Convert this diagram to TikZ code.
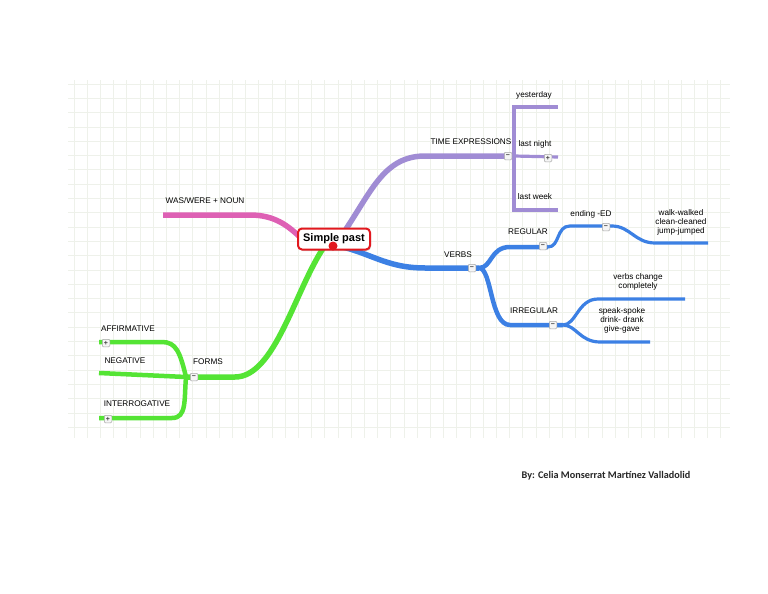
\documentclass[tikz,border=0pt]{standalone}
\usepackage{fontspec}
\setmainfont{Liberation Sans}
\newfontfamily\authorfont{Carlito}
\usetikzlibrary{shadows}
\definecolor{gridc}{RGB}{238,241,234}
\definecolor{purp}{RGB}{160,140,212}
\definecolor{pink}{RGB}{222,96,180}
\definecolor{blu}{RGB}{60,128,228}
\definecolor{grn}{RGB}{84,228,52}
\definecolor{redc}{RGB}{226,24,30}
\tikzset{
  lbl/.style={font=\fontsize{8.2}{9}\selectfont, inner sep=0pt, align=center},
  multi/.style={lbl, font=\fontsize{8.2}{9}\selectfont},
  toggle/.style={draw=gray!70, fill=gray!8, rounded corners=1pt, minimum size=7.5pt, inner sep=0pt, line width=0.5pt, font=\fontsize{7}{7}\selectfont\bfseries, text=black!75},
  br/.style={line width=5.5pt, line cap=butt},
  sub/.style={line width=4.5pt},
  leaf/.style={line width=3.2pt},
}
\begin{document}
\begin{tikzpicture}[x=1pt,y=-1pt]
\useasboundingbox (0,0) rectangle (768,594);
\fill[white] (0,0) rectangle (768,594);
% grid
\foreach \i in {0,...,49} { \draw[gridc, line width=0.7pt] ({74+13.2*\i},80) -- ({74+13.2*\i},438); }
\foreach \j in {0,...,24} { \draw[gridc, line width=0.7pt] (68,{84+14.3*\j}) -- (730,{84+14.3*\j}); }

% coordinates
\coordinate (pS) at (346,229);
\coordinate (pA) at (425,156);
\coordinate (pB) at (514,156);
\coordinate (yT) at (514,107);
\coordinate (yB) at (514,210);
\coordinate (yTe) at (558,107);
\coordinate (yMe) at (558,157);
\coordinate (yBe) at (558,210);
\coordinate (kS) at (300,237);
\coordinate (kA) at (250,215);
\coordinate (kB) at (163,215);
\coordinate (bS) at (334,245);
\coordinate (bA) at (425,268);
\coordinate (vJ) at (479,268);
\coordinate (rA) at (510,247);
\coordinate (rB) at (548,247);
\coordinate (eA) at (570,226);
\coordinate (eB) at (612,226);
\coordinate (wA) at (655,243);
\coordinate (wB) at (708,243);
\coordinate (iA) at (510,325);
\coordinate (iB) at (563,325);
\coordinate (cA) at (598,299);
\coordinate (cB) at (685,299);
\coordinate (sA) at (600,342);
\coordinate (sB) at (650,342);
\coordinate (gS) at (324,247);
\coordinate (gA) at (235,377);
\coordinate (fJ) at (186,377);
\coordinate (aA) at (162,342);
\coordinate (aB) at (99,342);
\coordinate (nB) at (99,373);
\coordinate (tA) at (172,418);
\coordinate (tB) at (99,418);

% purple branch
\draw[purp, br] (pS) .. controls (372,190) and (385,156) .. (pA) -- (pB);
\draw[purp, leaf, line cap=rect] (yT) -- (yB);
\draw[purp, leaf] (yT) -- (yTe);
\draw[purp, leaf] (pB) -- (yMe);
\draw[purp, leaf] (yB) -- (yBe);
% pink
\draw[pink, br] (kB) -- (kA) .. controls (275,215) and (288,226) .. (kS);
% blue
\draw[blu, br] (bS) .. controls (370,252) and (385,268) .. (bA) -- (vJ);
\draw[blu, sub] (vJ) .. controls (492,268) and (490,247) .. (rA) -- (rB);
\draw[blu, leaf] (rB) .. controls (560,247) and (556,226) .. (eA) -- (eB);
\draw[blu, leaf] (eB) .. controls (630,226) and (635,243) .. (wA) -- (wB);
\draw[blu, sub] (vJ) .. controls (492,268) and (490,325) .. (iA) -- (iB);
\draw[blu, leaf] (iB) .. controls (576,325) and (578,299) .. (cA) -- (cB);
\draw[blu, leaf] (iB) .. controls (576,325) and (580,342) .. (sA) -- (sB);
% green
\draw[grn, br] (gS) .. controls (295,290) and (275,377) .. (gA) -- (fJ);
\draw[grn, sub] (fJ) .. controls (180,352) and (176,342) .. (aA) -- (aB);
\draw[grn, sub] (fJ) -- (nB);
\draw[grn, sub] (fJ) .. controls (184,400) and (187,418) .. (tA) -- (tB);

% central node
\node[draw=redc, line width=2pt, fill=white, rounded corners=4pt, minimum width=72pt, minimum height=21pt, inner sep=2pt, font=\fontsize{11}{12}\selectfont\bfseries, drop shadow={opacity=0.3, shadow xshift=1pt, shadow yshift=-1.5pt}] (root) at (334,239) {Simple past};
\fill[redc] (333,246) circle (4.5);

% labels
\node[lbl] (tim) at (471,142) {TIME EXPRESSIONS};
\node[lbl] (yes) at (534,95) {yesterday};
\node[lbl] (lnt) at (535,144) {last night};
\node[lbl] (lwk) at (535,197) {last week};
\node[lbl] (was) at (205,201) {WAS/WERE + NOUN};
\node[lbl] (vrb) at (458,255) {VERBS};
\node[lbl] (reg) at (528,232) {REGULAR};
\node[lbl] (edd) at (591,214) {ending -ED};
\node[multi] (wlk) at (681,222) {walk-walked\\clean-cleaned\\jump-jumped};
\node[lbl] (irr) at (534,311) {IRREGULAR};
\node[multi] (chg) at (638,282) {verbs change\\completely};
\node[multi] (spk) at (622,320) {speak-spoke\\drink- drank\\give-gave};
\node[lbl] (frm) at (208,362) {FORMS};
\node[lbl] (aff) at (128,329) {AFFIRMATIVE};
\node[lbl] (neg) at (125,361) {NEGATIVE};
\node[lbl] (int) at (137,404) {INTERROGATIVE};

% toggles
\node[toggle] (m1) at (508,156) {−};
\node[toggle] (m2) at (472,268) {−};
\node[toggle] (m3) at (543,246) {−};
\node[toggle] (m4) at (606,227) {−};
\node[toggle] (m5) at (553,325) {−};
\node[toggle] (m6) at (194,377) {−};
\node[toggle] (p1) at (548,158) {+};
\node[toggle] (p2) at (106,343) {+};
\node[toggle] (p3) at (108,419) {+};

% author
\node[inner sep=0pt, font=\authorfont\fontsize{10.2}{12}\selectfont\bfseries, text=black!85] (auth) at (606,476) {By: Celia Monserrat Martínez Valladolid};
\end{tikzpicture}
\end{document}
